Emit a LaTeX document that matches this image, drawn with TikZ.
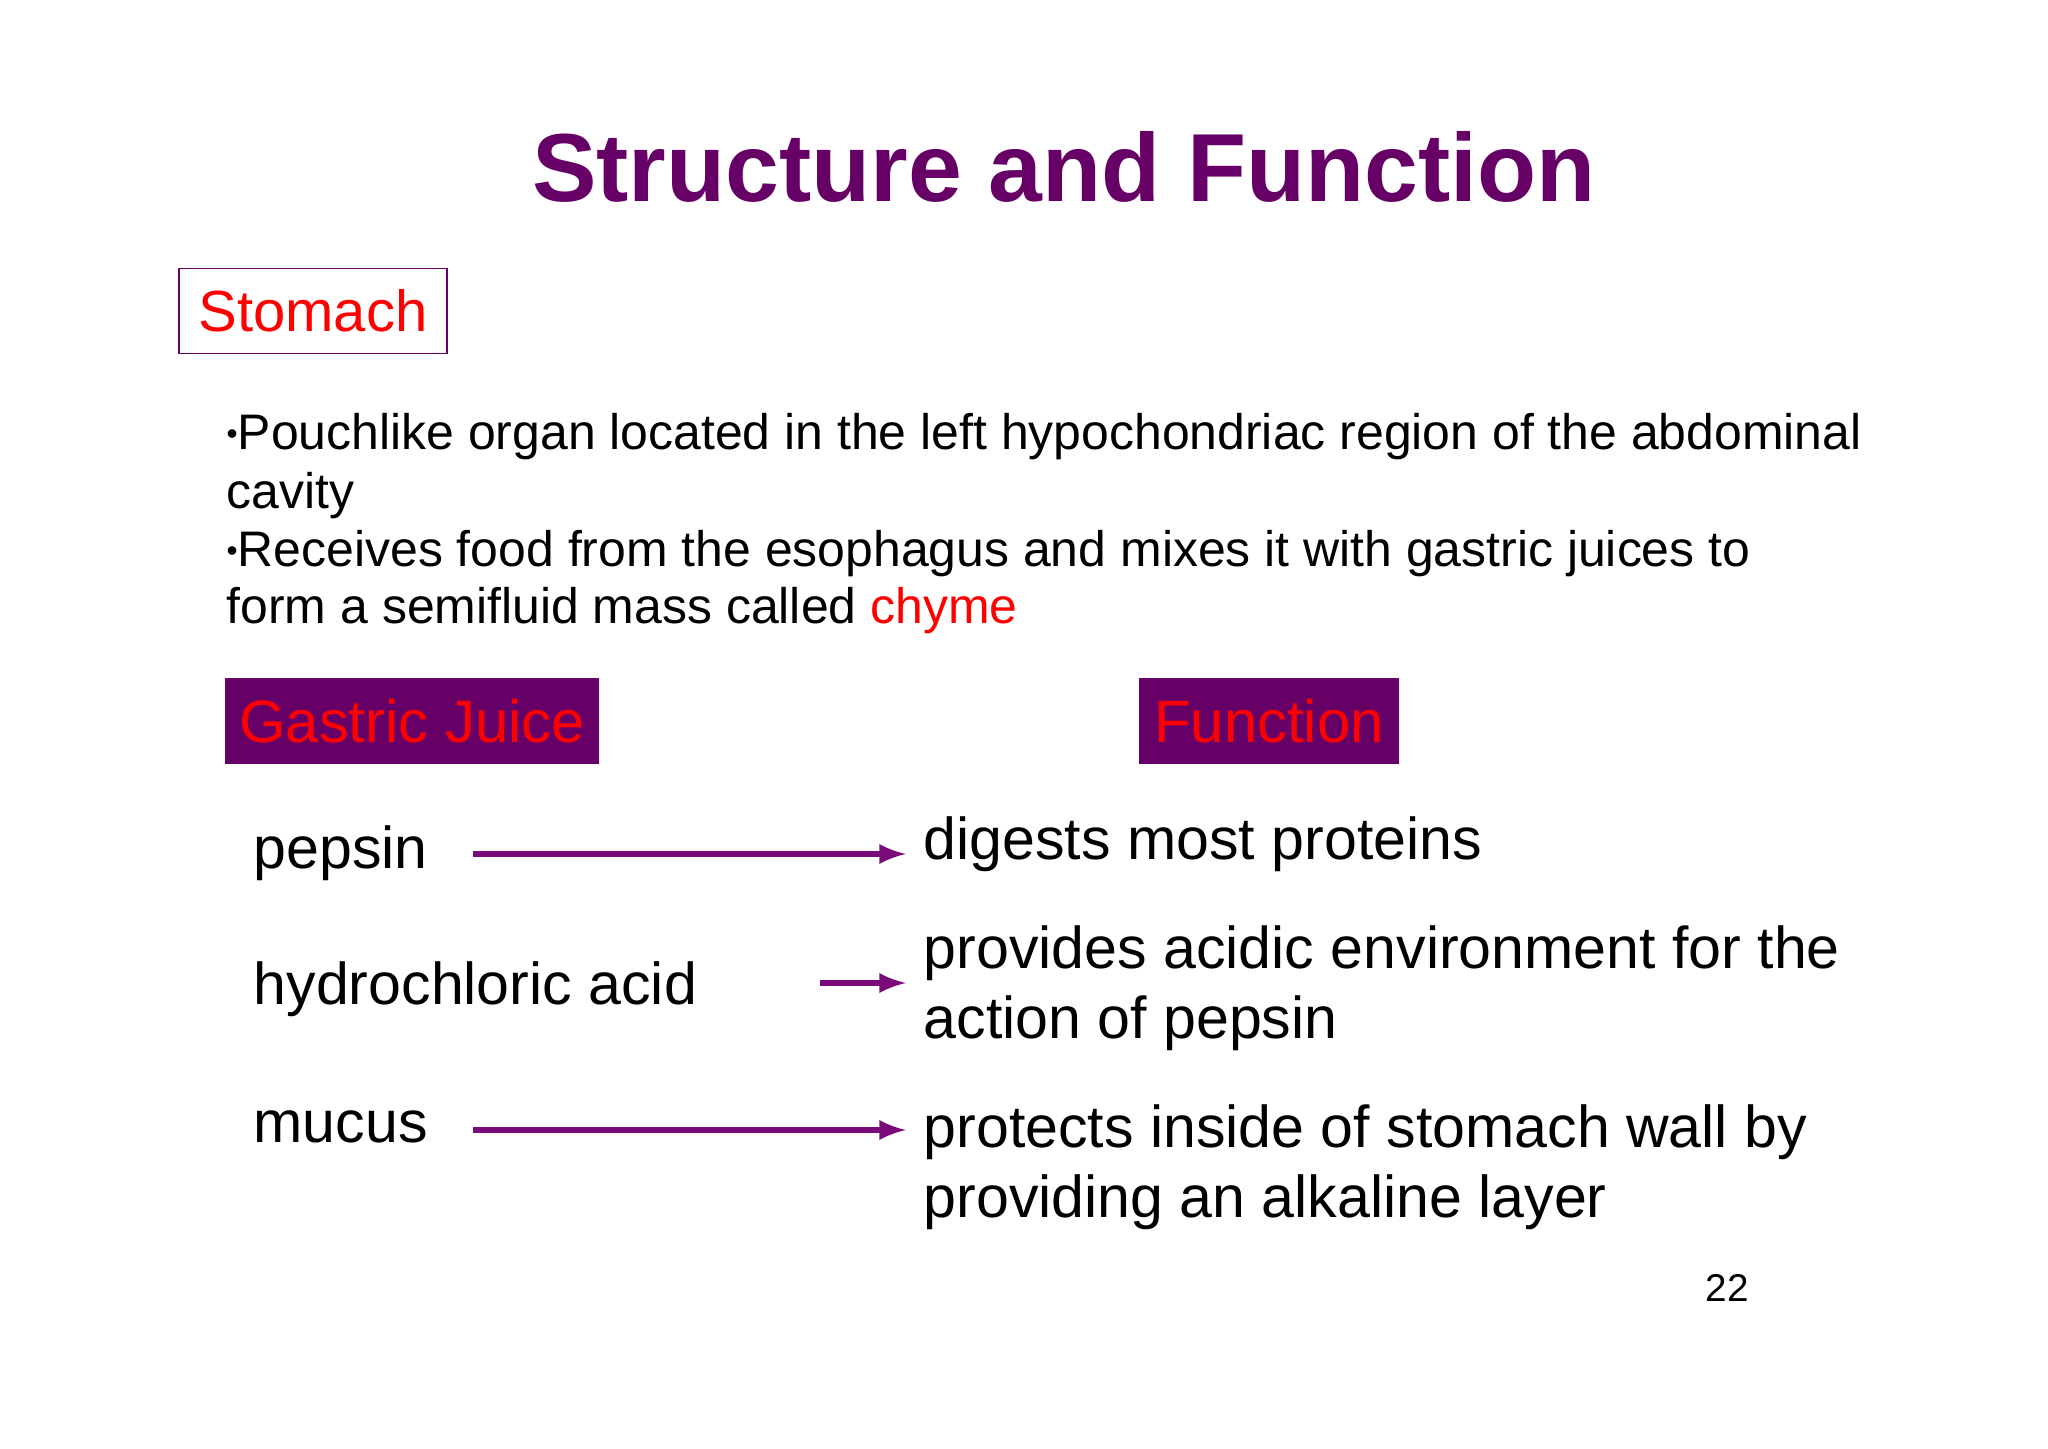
\documentclass[tikz,border=0pt]{standalone}
\usepackage{fontspec}
\setmainfont{Liberation Sans}
\definecolor{pur}{HTML}{660066}
\definecolor{arr}{HTML}{7A0A7A}
\newcommand{\smbul}{{\fontsize{9}{9}\selectfont\raisebox{0.35ex}{•}}}
\begin{document}
\begin{tikzpicture}[x=0.01cm,y=-0.01cm,
 body/.style={anchor=west,inner sep=0pt,font=\fontsize{14.2}{19}\selectfont},
 big/.style={anchor=west,inner sep=0pt,align=left,font=\fontsize{16.8}{20}\selectfont},
 hdr/.style={fill=pur,text=red,inner sep=0pt,font=\fontsize{17}{20}\selectfont},
 ar/.style={arr,line width=1.6pt,-latex}]
\useasboundingbox (0,0) rectangle (2048,1449);
\node[text=pur,font=\bfseries\fontsize{27.5}{30}\selectfont,inner sep=0pt] (t) at (1064,167) {Structure and Function};
\node[draw=pur,text=red,minimum width=2.68cm,minimum height=0.85cm,inner sep=0pt,font=\fontsize{16.5}{20}\selectfont] (st) at (313,311) {Stomach};
\node[body] (b1) at (226,437) {\smbul Pouchlike organ located in the left hypochondriac region of the abdominal};
\node[body] (b1b) at (226,496) {cavity};
\node[body] (b2) at (226,554) {\smbul Receives food from the esophagus and mixes it with gastric juices to};
\node[body] (b2b) at (226,611) {form a semifluid mass called \textcolor{red}{chyme}};
\node[hdr,minimum width=3.73cm,minimum height=0.85cm] (gj) at (412,721) {Gastric Juice};
\node[hdr,minimum width=2.59cm,minimum height=0.85cm] (fn) at (1269,721) {Function};
\node[big] (p) at (253,853) {pepsin};
\node[big] (h) at (253,989) {hydrochloric acid};
\node[big] (m) at (253,1127) {mucus};
\node[big] (d) at (923,844) {digests most proteins};
\node[big,anchor=north west] (pr) at (923,925) {provides acidic environment for the\\action of pepsin};
\node[big,anchor=north west] (pt) at (923,1104) {protects inside of stomach wall by\\providing an alkaline layer};
\coordinate (a1) at (473,854); \coordinate (a1e) at (906,854);
\coordinate (a2) at (820,983); \coordinate (a2e) at (906,983);
\coordinate (a3) at (473,1130); \coordinate (a3e) at (906,1130);
\draw[ar] (a1) -- (a1e);
\draw[ar] (a2) -- (a2e);
\draw[ar] (a3) -- (a3e);
\node[font=\fontsize{11}{13}\selectfont] (n) at (1727,1288) {22};
\end{tikzpicture}
\end{document}
